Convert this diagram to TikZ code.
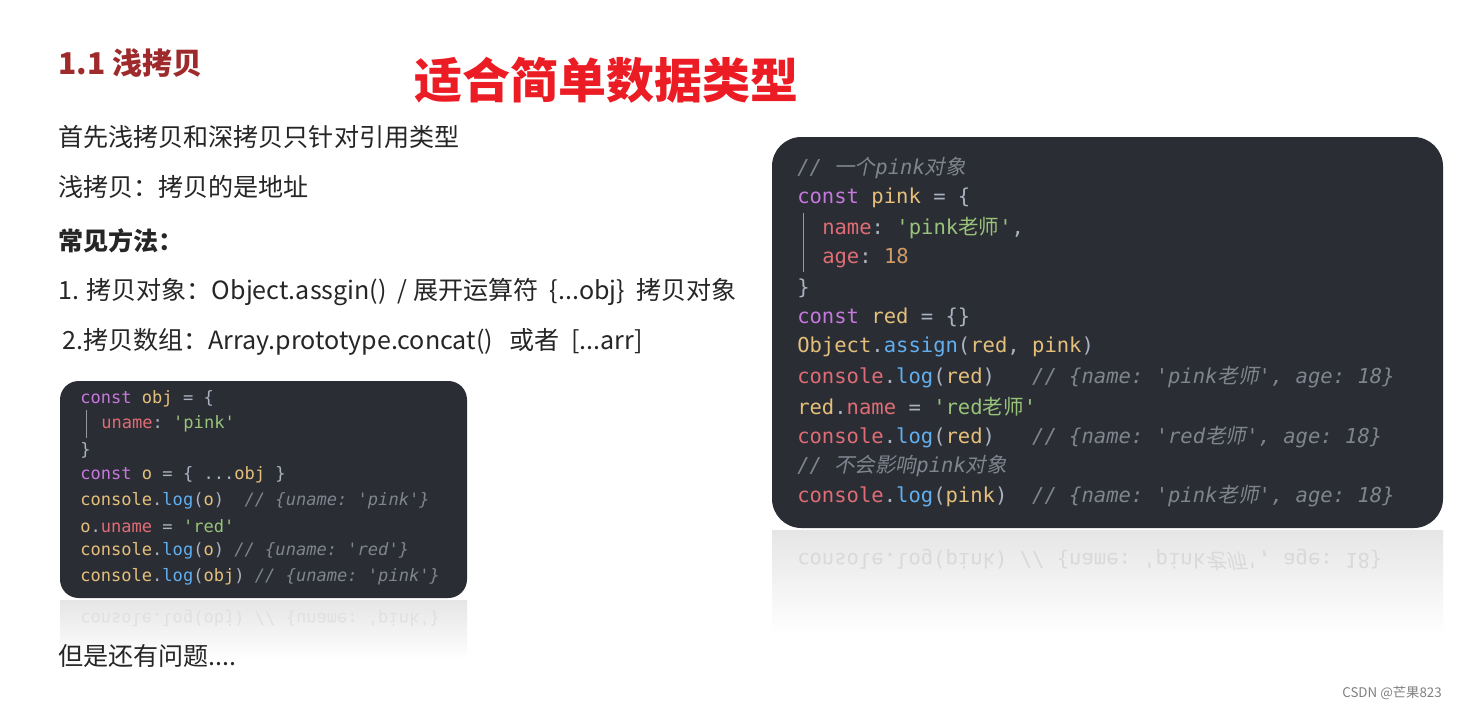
\documentclass[tikz,border=0pt]{standalone}
\usepackage{fontspec}
\setmainfont{Noto Sans CJK SC}
\setmonofont{DejaVu Sans Mono}
\newfontfamily\cjk{Noto Sans CJK SC}
\newfontfamily\cjkit[FakeSlant=0.2]{Noto Sans CJK SC}
\definecolor{codebg}{HTML}{2A2D34}
\definecolor{ckwc}{HTML}{C678DD}
\definecolor{cvarc}{HTML}{E5C07B}
\definecolor{cstrc}{HTML}{98C379}
\definecolor{cprc}{HTML}{E06C75}
\definecolor{cnumc}{HTML}{D19A66}
\definecolor{cfnc}{HTML}{61AFEF}
\definecolor{ccmc}{HTML}{7F848E}
\definecolor{cplc}{HTML}{ABB2BF}
\definecolor{titred}{HTML}{9E2A2B}
\definecolor{bigred}{HTML}{EB1C24}
\def\Ckw#1{\textcolor{ckwc}{#1}}
\def\Cvar#1{\textcolor{cvarc}{#1}}
\def\Cstr#1{\textcolor{cstrc}{#1}}
\def\Cpr#1{\textcolor{cprc}{#1}}
\def\Cnum#1{\textcolor{cnumc}{#1}}
\def\Cfn#1{\textcolor{cfnc}{#1}}
\def\Ccm#1{\textcolor{ccmc}{\itshape #1}}
\def\Zh#1{{\cjk #1}}
\def\Zi#1{{\cjkit #1}}
\begin{document}
\begin{tikzpicture}[x=0.75pt,y=-0.75pt,
  body/.style={anchor=west,inner sep=0pt,font=\fontsize{18.8}{20}\selectfont,text=black!85},
  rcode/.style={anchor=west,inner sep=0pt,font=\ttfamily\fontsize{15.4}{17}\selectfont,text=cplc},
  lcode/.style={anchor=west,inner sep=0pt,font=\ttfamily\fontsize{12.8}{14}\selectfont,text=cplc},
  box/.style={fill=codebg,draw=none}]
\useasboundingbox[fill=white] (0,0) rectangle (1457,711);
% reflections
\shade[top color=black!10,bottom color=white] (772,530) rectangle (1443,635);
\shade[top color=black!10,bottom color=white] (60,600) rectangle (467,660);
\node[anchor=west,inner sep=0pt,text=black!15,font=\ttfamily\fontsize{15.4}{17}\selectfont,yscale=-1] (refr) at (797,560) {console.log(pink)  // \{name: 'pink\Zi{老师}', age: 18\}};
\node[anchor=west,inner sep=0pt,text=black!12,font=\ttfamily\fontsize{12.8}{14}\selectfont,yscale=-1] (refl) at (80,618) {console.log(obj) // \{uname: 'pink'\}};
% boxes
\draw[box,rounded corners=22] (772,137) rectangle (1443,528);
\draw[box,rounded corners=14] (60,381) rectangle (467,598);
\draw[black!40,line width=0.6pt] (803,213) -- (803,272);
\draw[black!40,line width=0.6pt] (86,410) -- (86,438);
% headings
\node[anchor=west,inner sep=0pt,font=\bfseries\fontsize{22.5}{25}\selectfont,text=titred] (t1) at (58,63) {1.1 浅拷贝};
\node[inner sep=0pt,font=\bfseries\fontsize{36}{40}\selectfont,text=bigred] (t2) at (606,80) {适合简单数据类型};
% body
\node[body] (b1) at (58,137) {首先浅拷贝和深拷贝只针对引用类型};
\node[body] (b2) at (58,187) {浅拷贝：拷贝的是地址};
\node[body,font=\bfseries\fontsize{18.8}{20}\selectfont] (b3) at (58,241) {常见方法：};
\node[body] (b4) at (58,292) {1. 拷贝对象：Object.assgin()\ \ / 展开运算符\ \ \{...obj\}\ \ 拷贝对象};
\node[body] (b5) at (62,342) {2.拷贝数组：Array.prototype.concat()\ \ \ 或者\ \ [...arr]};
\node[body] (b6) at (58,656) {但是还有问题....};
% right code
\node[rcode] (r1) at (797,168) {\Ccm{// \Zi{一个}pink\Zi{对象}}};
\node[rcode] (r2) at (797,198) {\Ckw{const} \Cvar{pink} = \{};
\node[rcode] (r3) at (822,228) {\Cpr{name}: \Cstr{'pink\Zh{老师}'},};
\node[rcode] (r4) at (822,258) {\Cpr{age}: \Cnum{18}};
\node[rcode] (r5) at (797,288) {\}};
\node[rcode] (r6) at (797,317) {\Ckw{const} \Cvar{red} = \{\}};
\node[rcode] (r7) at (797,347) {\Cvar{Object}.\Cfn{assign}(\Cvar{red}, \Cvar{pink})};
\node[rcode] (r8) at (797,377) {\Cpr{console}.\Cfn{log}(\Cvar{red})\ \ \ \Ccm{// \{name: 'pink\Zi{老师}', age: 18\}}};
\node[rcode] (r9) at (797,407) {\Cvar{red}.\Cpr{name} = \Cstr{'red\Zh{老师}'}};
\node[rcode] (r10) at (797,437) {\Cpr{console}.\Cfn{log}(\Cvar{red})\ \ \ \Ccm{// \{name: 'red\Zi{老师}', age: 18\}}};
\node[rcode] (r11) at (797,466) {\Ccm{// \Zi{不会影响}pink\Zi{对象}}};
\node[rcode] (r12) at (797,496) {\Cpr{console}.\Cfn{log}(\Cvar{pink})\ \ \Ccm{// \{name: 'pink\Zi{老师}', age: 18\}}};
% left code
\node[lcode] (l1) at (80,399) {\Ckw{const} \Cvar{obj} = \{};
\node[lcode] (l2) at (101,424) {\Cpr{uname}: \Cstr{'pink'}};
\node[lcode] (l3) at (80,450) {\}};
\node[lcode] (l4) at (80,475) {\Ckw{const} \Cvar{o} = \{ ...\Cvar{obj} \}};
\node[lcode] (l5) at (80,501) {\Cvar{console}.\Cfn{log}(\Cvar{o})\ \ \Ccm{// \{uname: 'pink'\}}};
\node[lcode] (l6) at (80,526) {\Cvar{o}.\Cpr{uname} = \Cstr{'red'}};
\node[lcode] (l7) at (80,551) {\Cvar{console}.\Cfn{log}(\Cvar{o}) \Ccm{// \{uname: 'red'\}}};
\node[lcode] (l8) at (80,577) {\Cvar{console}.\Cfn{log}(\Cvar{obj}) \Ccm{// \{uname: 'pink'\}}};
% watermark
\node[anchor=east,inner sep=0pt,font=\fontsize{10}{12}\selectfont,text=black!50] (wm) at (1442,693) {CSDN @芒果823};
\end{tikzpicture}
\end{document}
